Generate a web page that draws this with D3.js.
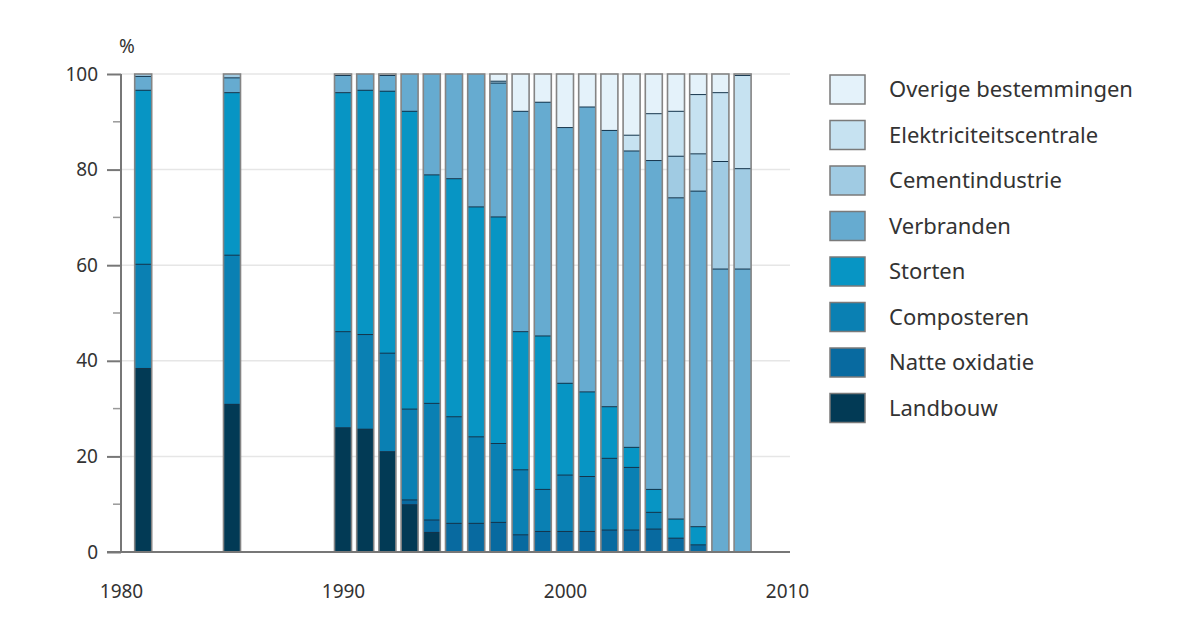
<!DOCTYPE html>
<html>
<head>
<meta charset="utf-8">
<script src="https://cdnjs.cloudflare.com/ajax/libs/d3/7.8.5/d3.min.js"></script>
<style>
  body { margin: 0; background: #fff; }
  text { font-family: "Noto Sans", sans-serif; fill: #333; }
</style>
</head>
<body>
<svg id="chart" width="1200" height="630"></svg>
<script>
var years = [1981, 1985, 1990, 1991, 1992, 1993, 1994, 1995, 1996, 1997, 1998, 1999, 2000, 2001, 2002, 2003, 2004, 2005, 2006, 2007, 2008];

var landbouw      = [38.5, 31.0, 26.1, 25.8, 21.1, 10.0, 4.2, 0, 0, 0, 0, 0, 0, 0, 0, 0, 0, 0, 0, 0, 0];
var natteOxidatie = [0, 0, 0, 0, 0, 1.0, 2.6, 6.1, 6.1, 6.3, 3.7, 4.4, 4.4, 4.4, 4.7, 4.7, 4.9, 3.0, 1.6, 0, 0];
var composteren   = [21.8, 31.2, 20.1, 19.8, 20.6, 19.0, 24.4, 22.3, 18.1, 16.5, 13.6, 8.8, 11.8, 11.5, 15.0, 13.1, 3.5, 0, 0, 0, 0];
var storten       = [36.4, 34.0, 50.0, 51.1, 54.8, 62.3, 47.8, 49.8, 48.1, 47.4, 28.9, 32.1, 19.2, 17.7, 10.8, 4.2, 4.8, 4.0, 3.8, 0, 0];
var verbranden    = [2.9, 3.1, 3.6, 3.3, 3.3, 7.7, 21.0, 21.8, 27.7, 28.0, 46.1, 48.9, 53.5, 59.6, 57.8, 62.0, 68.8, 67.2, 70.2, 59.3, 59.3];
var cement        = [0.4, 0.7, 0, 0, 0, 0, 0, 0, 0, 0.4, 0, 0, 0, 0, 0, 0, 0, 8.7, 7.8, 22.5, 21.0];
var elektriciteit = [0, 0, 0, 0, 0, 0, 0, 0, 0, 0, 0, 0, 0, 0, 0, 3.3, 9.8, 9.4, 12.4, 14.4, 19.5];
var overige       = [0, 0, 0.2, 0, 0.2, 0, 0, 0, 0, 1.4, 7.7, 5.8, 11.1, 6.8, 11.7, 12.7, 8.2, 7.7, 4.2, 3.8, 0.2];

// bottom to top
var seriesNames = ["Landbouw", "Natte oxidatie", "Composteren", "Storten", "Verbranden", "Cementindustrie", "Elektriciteitscentrale", "Overige bestemmingen"];
var seriesValues = [landbouw, natteOxidatie, composteren, storten, verbranden, cement, elektriciteit, overige];
var seriesColors = ["#023a55", "#086aa0", "#0a80b3", "#0795c4", "#66abd0", "#a0cbe3", "#c6e2f1", "#e4f2fa"];

var yTicks = [0, 20, 40, 60, 80, 100];
var yMinor = [10, 30, 50, 70, 90];
var xTicks = [1980, 1990, 2000, 2010];

var svg = d3.select("#chart");

var x = d3.scaleLinear().domain([1980, 2010]).range([121, 787]);
var y = d3.scaleLinear().domain([0, 100]).range([552, 74]);
var barW = 17;

var rows = years.map(function(yr, i) {
    var r = { year: yr };
    seriesNames.forEach(function(n, k) { r[n] = seriesValues[k][i]; });
    return r;
});

var stack = d3.stack().keys(seriesNames);
var stacked = stack(rows);

// gridlines
svg.append("g").selectAll("line")
    .data(yTicks.slice(1))
    .enter().append("line")
    .attr("x1", 121).attr("x2", 790)
    .attr("y1", function(d) { return y(d); })
    .attr("y2", function(d) { return y(d); })
    .attr("stroke", "#e6e6e6")
    .attr("stroke-width", 1.5);

// y axis
var yAxis = d3.axisLeft(y).tickValues(yTicks).tickSize(14).tickPadding(9);
var gy = svg.append("g").attr("transform", "translate(121,0)").call(yAxis);
gy.select(".domain").remove();
gy.selectAll(".tick line").attr("stroke", "#777").attr("stroke-width", 2);
gy.selectAll(".tick text").style("font-size", "19px").attr("fill", "#333").attr("font-family", "Noto Sans");

svg.append("g").selectAll("line")
    .data(yMinor)
    .enter().append("line")
    .attr("x1", 113).attr("x2", 121)
    .attr("y1", function(d) { return y(d); })
    .attr("y2", function(d) { return y(d); })
    .attr("stroke", "#999")
    .attr("stroke-width", 1.5);

svg.append("text")
    .attr("x", 127).attr("y", 53)
    .attr("text-anchor", "middle")
    .style("font-size", "19px")
    .text("%");

// bars
var layer = svg.append("g").selectAll("g.layer")
    .data(stacked)
    .enter().append("g")
    .attr("class", "layer")
    .attr("fill", function(d, i) { return seriesColors[i]; });

layer.selectAll("rect")
    .data(function(d) { return d; })
    .enter().append("rect")
    .attr("x", function(d) { return x(d.data.year) - barW / 2; })
    .attr("y", function(d) { return y(d[1]); })
    .attr("width", barW)
    .attr("height", function(d) { return y(d[0]) - y(d[1]); });

// dark separators on top of each segment below 100
layer.selectAll("line")
    .data(function(d) { return d.filter(function(p) { return p[1] - p[0] > 0 && p[1] < 99.95; }); })
    .enter().append("line")
    .attr("x1", function(d) { return x(d.data.year) - barW / 2; })
    .attr("x2", function(d) { return x(d.data.year) + barW / 2; })
    .attr("y1", function(d) { return y(d[1]); })
    .attr("y2", function(d) { return y(d[1]); })
    .attr("stroke", "#14344b")
    .attr("stroke-width", 2);

// bar outlines
svg.append("g").selectAll("rect")
    .data(years)
    .enter().append("rect")
    .attr("x", function(d) { return x(d) - barW / 2; })
    .attr("y", y(100))
    .attr("width", barW)
    .attr("height", y(0) - y(100))
    .attr("fill", "none")
    .attr("stroke", "#848484")
    .attr("stroke-width", 1.6);

// axis lines
svg.append("line")
    .attr("x1", 121).attr("x2", 121)
    .attr("y1", y(100)).attr("y2", y(0))
    .attr("stroke", "#777").attr("stroke-width", 2);

var xAxis = d3.axisBottom(x).tickValues(xTicks).tickFormat(d3.format("d")).tickSize(0).tickPadding(33);
var gx = svg.append("g").attr("transform", "translate(0," + y(0) + ")").call(xAxis);
gx.select(".domain").remove();
gx.selectAll(".tick text").style("font-size", "19px").attr("fill", "#333").attr("font-family", "Noto Sans");

svg.append("line")
    .attr("x1", 107).attr("x2", 790)
    .attr("y1", y(0)).attr("y2", y(0))
    .attr("stroke", "#777").attr("stroke-width", 2);

// legend, top entry is the top of the stack
var legendItems = seriesNames.map(function(n, i) { return { name: n, color: seriesColors[i] }; }).reverse();

var legend = svg.append("g").selectAll("g")
    .data(legendItems)
    .enter().append("g")
    .attr("transform", function(d, i) { return "translate(830," + (75 + i * 45.5) + ")"; });

legend.append("rect")
    .attr("width", 35).attr("height", 29)
    .attr("fill", function(d) { return d.color; })
    .attr("stroke", "#7a7a7a")
    .attr("stroke-width", 1.5);

legend.append("text")
    .attr("x", 59).attr("y", 22)
    .style("font-size", "22px")
    .text(function(d) { return d.name; });
</script>
</body>
</html>
